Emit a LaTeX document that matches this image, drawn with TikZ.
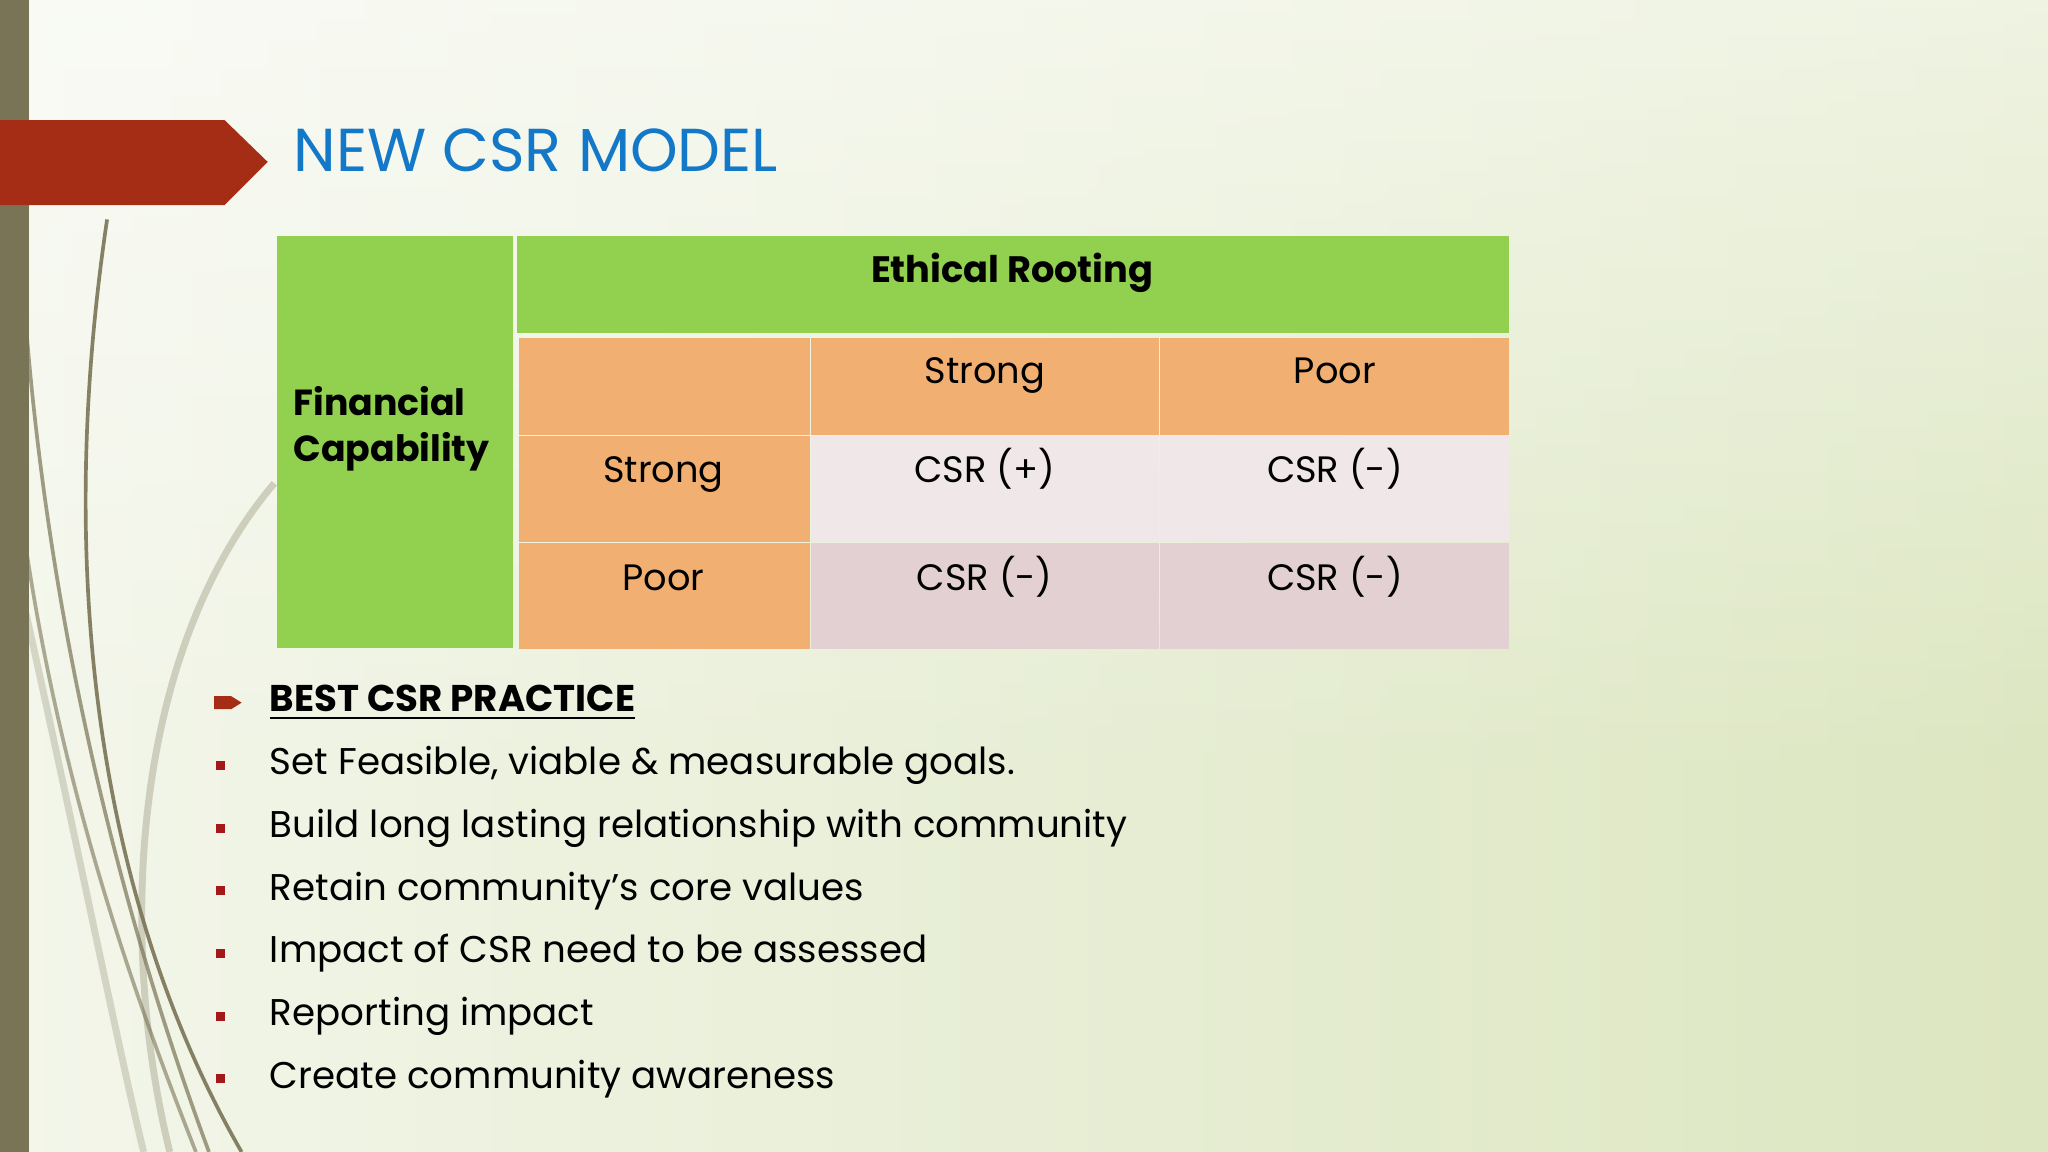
\documentclass[tikz,border=0pt]{standalone}
\usepackage{fontspec}
\usetikzlibrary{fadings}
\setmainfont{Poppins}
\begin{document}
\begin{tikzpicture}[x=0.01cm,y=-0.01cm,
  cellt/.style={anchor=north,font=\fontsize{8}{10}\selectfont,text=black,text height=1.4ex,text depth=0.4ex},
  bul/.style={anchor=west,font=\fontsize{8.1}{10}\selectfont,text=black},
  sq/.style={fill=red!60!black!90,minimum size=0.07cm,inner sep=0pt}]
\definecolor{bgA}{HTML}{F3F6EA}\definecolor{bgB}{HTML}{DCE6C0}
\definecolor{grn}{HTML}{92D050}\definecolor{org}{HTML}{F1B072}
\definecolor{c1}{HTML}{EFE7E8}\definecolor{c2}{HTML}{E3D0D3}
\definecolor{olive}{HTML}{7A7456}\definecolor{redA}{HTML}{A52D16}
\definecolor{ttl}{HTML}{1478C8}
\useasboundingbox (0,0) rectangle (1568,882);
\shade[left color=bgA,right color=bgB] (0,0) rectangle (1568,882);
\fill[white,opacity=0.55,path fading=south] (0,0) rectangle (1568,600);
\fill[olive] (0,0) rectangle (22,882);
\begin{scope}[draw=olive,line width=0.8pt]
\draw[opacity=0.9] (82,168) .. controls (40,450) and (80,700) .. (185,882);
\draw[opacity=0.7] (20,250) .. controls (40,500) and (100,720) .. (160,882);
\draw[opacity=0.6] (20,420) .. controls (50,620) and (110,780) .. (150,882);
\draw[opacity=0.3,line width=1.5pt] (210,370) .. controls (100,500) and (90,720) .. (130,882);
\draw[opacity=0.25,line width=1.5pt] (20,470) .. controls (60,650) and (90,800) .. (110,882);
\end{scope}
\fill[redA] (0,92) -- (172,92) -- (205,124) -- (172,157) -- (0,157) -- cycle;
\node[anchor=west,text=ttl,font=\fontsize{13.2}{16}\selectfont,inner sep=0pt] (title) at (224,115) {NEW CSR MODEL};
\fill[grn] (212,181) rectangle (393,496);
\fill[grn] (396,181) rectangle (1155,255);
\fill[org] (397,259) rectangle (620,333);
\fill[org] (621,259) rectangle (887,333);
\fill[org] (888,259) rectangle (1155,333);
\fill[org] (397,334) rectangle (620,415);
\fill[c1] (621,334) rectangle (887,415);
\fill[c1] (888,334) rectangle (1155,415);
\fill[org] (397,416) rectangle (620,497);
\fill[c2] (621,416) rectangle (887,497);
\fill[c2] (888,416) rectangle (1155,497);
\node[anchor=west,align=left,inner sep=0pt,font=\fontsize{7.9}{10}\selectfont\bfseries] (fc) at (224,328) {Financial\\Capability};
\node[cellt,font=\fontsize{8}{10}\selectfont\bfseries] (er) at (775,177) {Ethical Rooting};
\node[cellt] (h1) at (754,254) {Strong};
\node[cellt] (h2) at (1022,254) {Poor};
\node[cellt] (r1) at (508,330) {Strong};
\node[cellt] (a) at (754,330) {CSR (+)};
\node[cellt] (b) at (1022,330) {CSR (-)};
\node[cellt] (r2) at (508,413) {Poor};
\node[cellt] (c) at (754,413) {CSR (-)};
\node[cellt] (d) at (1022,413) {CSR (-)};
\fill[redA] (164,533) -- (177,533) -- (185,538) -- (177,543) -- (164,543) -- cycle;
\node[bul,inner sep=0pt,font=\fontsize{8.1}{10}\selectfont\bfseries] (b0) at (206,538) {\underline{BEST CSR PRACTICE}};
\foreach \y/\t [count=\i] in {586/{Set Feasible, viable \& measurable goals.},634/{Build long lasting relationship with community},682/{Retain community’s core values},730/{Impact of CSR need to be assessed},778/{Reporting impact},826/{Create community awareness}}{
  \node[sq] (s\i) at (169,\y) {};
  \node[bul,inner sep=0pt] (t\i) at (206,\y) {\t};
}
\end{tikzpicture}
\end{document}
